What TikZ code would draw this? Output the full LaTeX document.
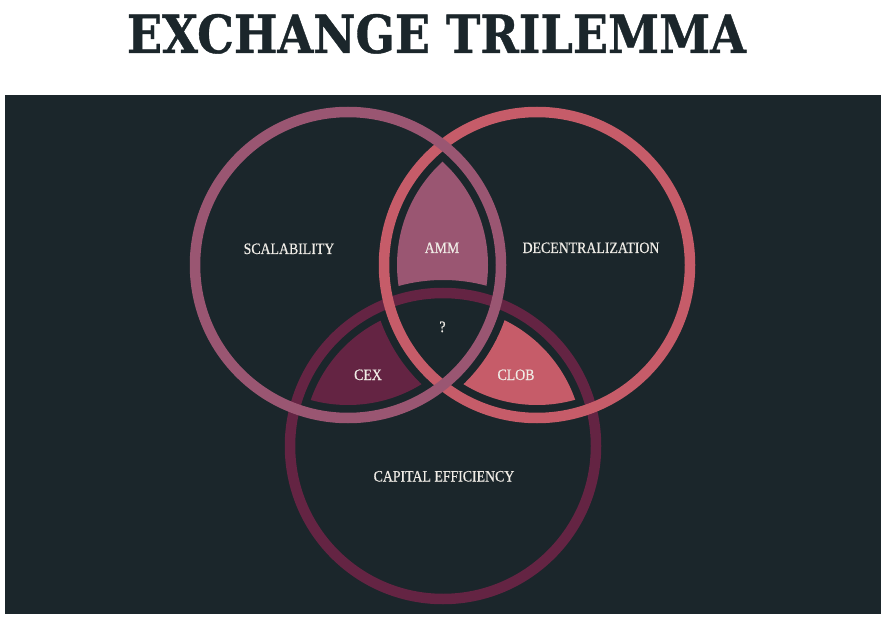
\documentclass[tikz,border=0pt]{standalone}
\usepackage{fontspec}
\newfontfamily\labfont[FakeStretch=0.87,FakeBold=0.5]{Liberation Serif}
\newfontfamily\titlefont[FakeBold=0.8]{DejaVu Serif}
\definecolor{bgdark}{HTML}{1B262B}
\definecolor{mauve}{HTML}{9A5672}
\definecolor{coral}{HTML}{C65C69}
\definecolor{plum}{HTML}{642443}
\definecolor{labwhite}{HTML}{EFECE6}
\tikzset{
  ring/.style={line width=10.5pt},
  lab/.style={text=labwhite, font=\labfont\fontsize{15.9}{18}\selectfont, inner sep=0pt, anchor=base},
}
\begin{document}
\begin{tikzpicture}[x=1pt,y=-1pt]
\useasboundingbox (0,0) rectangle (886,620);
\fill[white] (0,0) rectangle (886,620);
\node[inner sep=0pt, anchor=base, text=bgdark] (title) at (436.5,53)
  {\resizebox{619pt}{39pt}{\titlefont\bfseries EXCHANGE TRILEMMA}};
\fill[bgdark] (4.5,95.5) rectangle (881,614);
\coordinate (L) at (348,265);
\coordinate (R) at (537,265);
\coordinate (B) at (443,446);
\def\rin{140}
\def\rout{166}
% AMM: L and R, not B
\begin{scope}
  \clip (L) circle[radius=\rin];
  \clip (R) circle[radius=\rin];
  \fill[mauve, even odd rule] (B) circle[radius=\rout] (0,0) rectangle (886,620);
\end{scope}
% CEX: L and B, not R
\begin{scope}
  \clip (L) circle[radius=\rin];
  \clip (B) circle[radius=\rin];
  \fill[plum, even odd rule] (R) circle[radius=\rout] (0,0) rectangle (886,620);
\end{scope}
% CLOB: R and B, not L
\begin{scope}
  \clip (R) circle[radius=\rin];
  \clip (B) circle[radius=\rin];
  \fill[coral, even odd rule] (L) circle[radius=\rout] (0,0) rectangle (886,620);
\end{scope}
\draw[ring, plum] (B) circle[radius=153];
\draw[ring, coral] (R) circle[radius=153];
\draw[ring, mauve] (L) circle[radius=153];
\node[lab] (scal) at (289,254) {SCALABILITY};
\node[lab] (amm) at (442,253) {AMM};
\node[lab] (dec) at (591,253) {DECENTRALIZATION};
\node[lab] (q) at (442.5,332) {?};
\node[lab] (cex) at (368,380) {CEX};
\node[lab] (clob) at (516,380) {CLOB};
\node[lab] (cap) at (444,481.5) {CAPITAL EFFICIENCY};
\end{tikzpicture}
\end{document}
